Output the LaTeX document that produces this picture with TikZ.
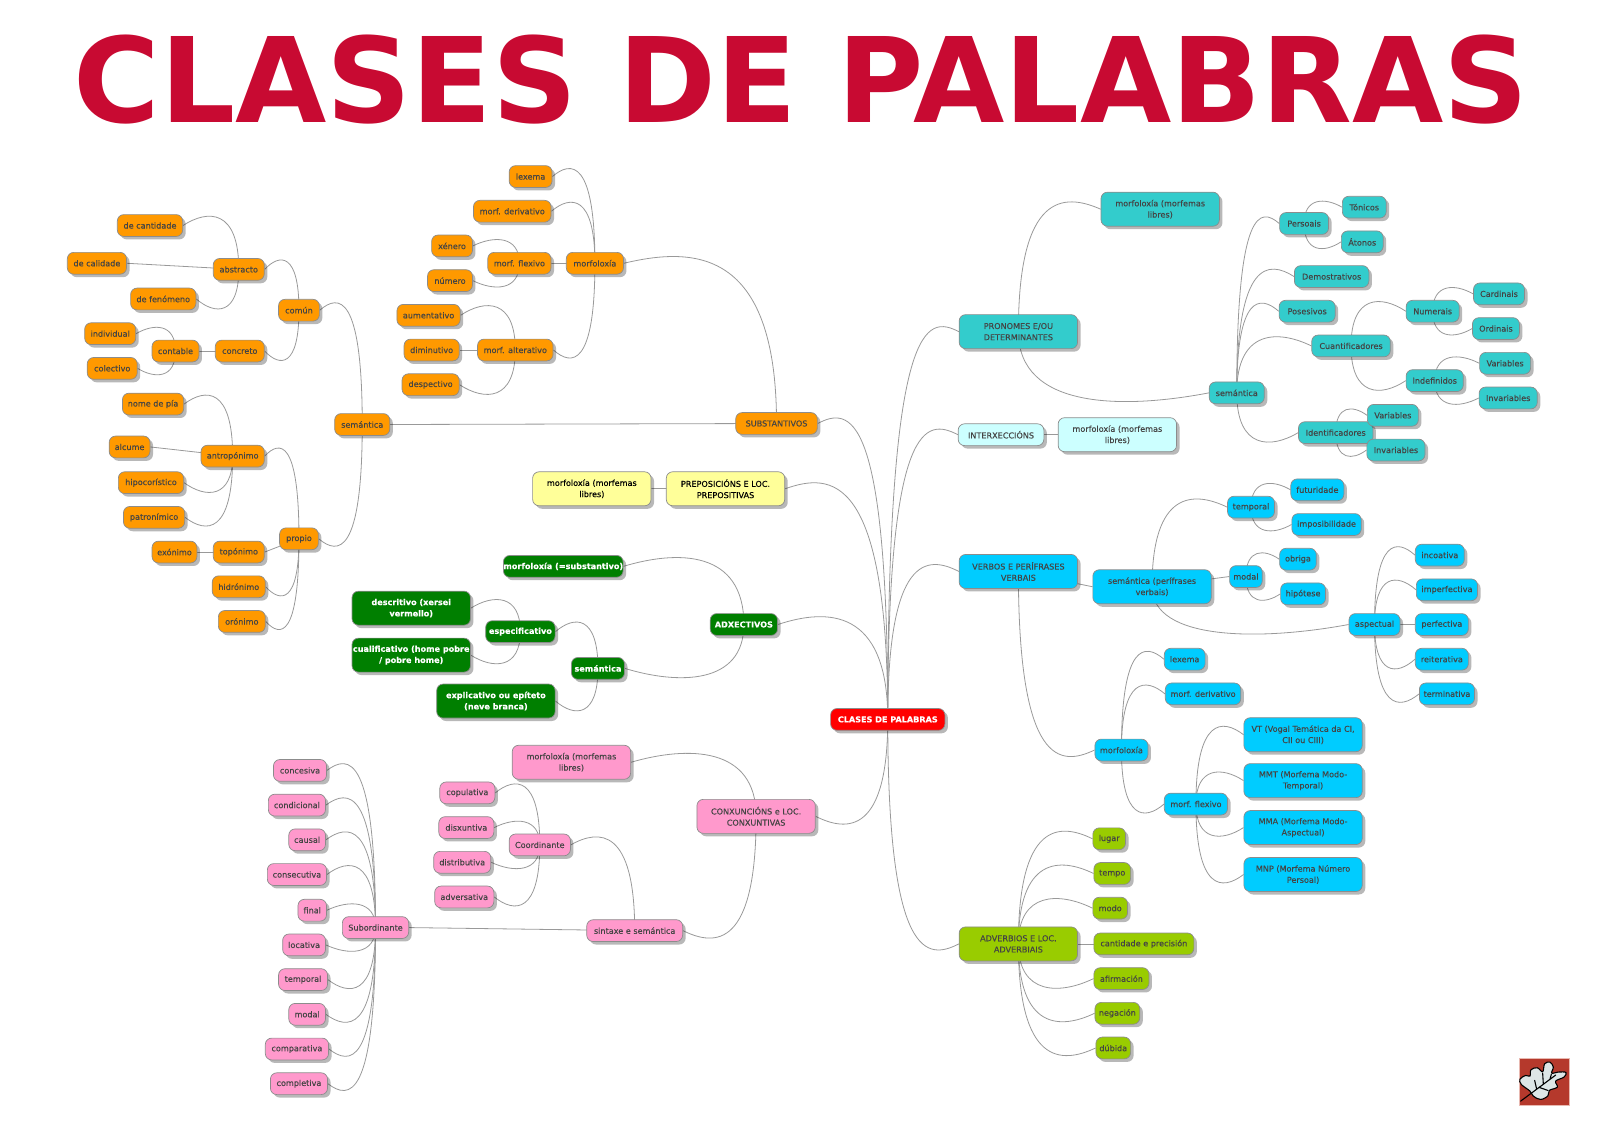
\documentclass[tikz,border=0pt]{standalone}
\usepackage{fontspec}
\setmainfont{DejaVu Sans}
\newfontfamily\nodefont{DejaVu Sans}[FakeBold=0.25]
\usetikzlibrary{shadows,backgrounds,calc}
\definecolor{cOr}{HTML}{FF9900}
\definecolor{cYe}{HTML}{FFFF99}
\definecolor{cGr}{HTML}{007F00}
\definecolor{cPi}{HTML}{FF99CC}
\definecolor{cTu}{HTML}{33CCCC}
\definecolor{cCy}{HTML}{CCFFFF}
\definecolor{cBl}{HTML}{00CCFF}
\definecolor{cLi}{HTML}{99CC00}
\definecolor{cTxt}{HTML}{444444}
\definecolor{cTitle}{HTML}{C80A32}
\definecolor{cLink}{HTML}{999999}
\definecolor{cLeafBg}{HTML}{B5392C}
\definecolor{cLeafEdge}{HTML}{E8B8B0}
\definecolor{cLeaf}{HTML}{DDE6E6}
\tikzset{
  mm/.style={draw=black!45,line width=0.35pt,rounded corners=3.2pt,inner sep=0pt,align=center,
    minimum height=10.9pt,text=cTxt,font=\nodefont\fontsize{4.05}{5.6}\selectfont,
    drop shadow={shadow xshift=1.5pt,shadow yshift=-1.5pt,opacity=.28,fill=black}},
  w/.style={minimum width=#1*0.5102pt},
  two/.style={minimum height=17pt,minimum width=59.2pt},
  or/.style={mm,fill=cOr},
  ye/.style={mm,fill=cYe,text=black},
  gr/.style={mm,fill=cGr,text=white},
  pi/.style={mm,fill=cPi},
  tu/.style={mm,fill=cTu},
  cy/.style={mm,fill=cCy},
  bl/.style={mm,fill=cBl},
  li/.style={mm,fill=cLi},
  rootnode/.style={mm,fill=red,text=white},
  link/.style={draw=cLink,line width=0.4pt},
}
\newcommand{\cn}[3]{%
  \draw[link] let \p1=(#1.center),\p2=(#2.#3),\n1={min(8.2,0.6*abs(\y2-\y1))*(\y2>\y1?1:-1)},
    \n2={\x2+0.45*(\x1-\x2)} in
    (\p1) .. controls (\x1,{\y2+\n1}) and (\n2,{\y2+\n1}) .. (\p2);}
\newcommand{\cs}[3]{\draw[link] (#1.center) -- (#2.#3);}
\begin{document}
\begin{tikzpicture}[x=0.5102pt,y=-0.5102pt]
\useasboundingbox (0,0) rectangle (1568,1108.4);
\node[text=cTitle,font=\fontsize{59}{59}\selectfont\bfseries,inner sep=0pt] (title) at (785,78) {CLASES DE PALABRAS};
\node[rootnode,w=112] (root) at (870,705) {\textbf{CLASES DE PALABRAS}};
% orange
\node[or,w=80] (sub) at (761,415) {SUBSTANTIVOS};
\node[or,w=54] (subSem) at (355,416) {semántica};
\node[or,w=56] (subMor) at (583,258) {morfoloxía};
\node[or,w=42] (lexA) at (520,173) {lexema};
\node[or,w=76] (derA) at (502,207) {morf. derivativo};
\node[or,w=62] (flexA) at (509,258) {morf. flexivo};
\node[or,w=40] (xen) at (443,241) {xénero};
\node[or,w=44] (num) at (441,275) {número};
\node[or,w=74] (alt) at (505,343) {morf. alterativo};
\node[or,w=62] (aum) at (420,309) {aumentativo};
\node[or,w=54] (dim) at (423,343) {diminutivo};
\node[or,w=56] (des) at (422,377) {despectivo};
\node[or,w=40] (com) at (293,304) {común};
\node[or,w=50] (abs) at (234,264) {abstracto};
\node[or,w=64] (can) at (147,221) {de cantidade};
\node[or,w=58] (cal) at (95,258) {de calidade};
\node[or,w=64] (fen) at (160,293) {de fenómeno};
\node[or,w=48] (con) at (235,344) {concreto};
\node[or,w=46] (ctb) at (172,344) {contable};
\node[or,w=50] (ind) at (108,327) {individual};
\node[or,w=49] (col) at (110,361) {colectivo};
\node[or,w=60] (pia) at (150,396) {nome de pía};
\node[or,w=40] (alc) at (127,438) {alcume};
\node[or,w=62] (ant) at (228,447) {antropónimo};
\node[or,w=64] (hip) at (148,473) {hipocorístico};
\node[or,w=60] (pat) at (151,507) {patronímico};
\node[or,w=38] (pro) at (293,528) {propio};
\node[or,w=50] (top) at (234,541) {topónimo};
\node[or,w=44] (exo) at (171,541) {exónimo};
\node[or,w=52] (hid) at (234,575) {hidrónimo};
\node[or,w=46] (oro) at (237,609) {orónimo};
% yellow
\node[ye,two] (pre) at (711,479) {PREPOSICIÓNS E LOC.\\PREPOSITIVAS};
\node[ye,two] (preMor) at (580,479) {morfoloxía (morfemas\\libres)};
% green
\node[gr,w=66] (adx) at (729,612) {\textbf{ADXECTIVOS}};
\node[gr,w=116] (adxMor) at (552,555) {\textbf{morfoloxía (=substantivo)}};
\node[gr,w=52] (adxSem) at (586,655) {\textbf{semántica}};
\node[gr,w=68] (esp) at (510,619) {\textbf{especificativo}};
\node[gr,two] (dsc) at (403,596) {\textbf{descritivo (xersei}\\\textbf{vermello)}};
\node[gr,two] (cua) at (403,642) {\textbf{cualificativo (home pobre}\\\textbf{/ pobre home)}};
\node[gr,two] (exp) at (486,687) {\textbf{explicativo ou epíteto}\\\textbf{(neve branca)}};
% pink
\node[pi,two] (cnx) at (741,800) {CONXUNCIÓNS e LOC.\\CONXUNTIVAS};
\node[pi,two] (cnxMor) at (560,747) {morfoloxía (morfemas\\libres)};
\node[pi,w=94] (sin) at (622,912) {sintaxe e semántica};
\node[pi,w=65] (sbo) at (368,909) {Subordinante};
\node[pi,w=60] (coo) at (529,828) {Coordinante};
\node[pi,w=54] (cop) at (458,777) {copulativa};
\node[pi,w=54] (dis) at (457,811) {disxuntiva};
\node[pi,w=56] (dst) at (453,845) {distributiva};
\node[pi,w=58] (adv) at (455,879) {adversativa};
\node[pi,w=52] (cnc) at (294,755) {concesiva};
\node[pi,w=56] (cnd) at (291,789) {condicional};
\node[pi,w=36] (cau) at (301,823) {causal};
\node[pi,w=58] (csc) at (291,857) {consecutiva};
\node[pi,w=28] (fin) at (306,892) {final};
\node[pi,w=42] (loc) at (298,926) {locativa};
\node[pi,w=48] (tmpP) at (297,960) {temporal};
\node[pi,w=36] (mod) at (301,994) {modal};
\node[pi,w=62] (cmp) at (291,1028) {comparativa};
\node[pi,w=56] (cpl) at (293,1062) {completiva};
% turquoise
\node[tu,two] (prn) at (998,325) {PRONOMES E/OU\\DETERMINANTES};
\node[tu,two] (prnMor) at (1137,205) {morfoloxía (morfemas\\libres)};
\node[tu,w=54] (prnSem) at (1212,385) {semántica};
\node[tu,w=48] (per) at (1278,219) {Persoais};
\node[tu,w=43] (ton) at (1337,203) {Tónicos};
\node[tu,w=41] (ato) at (1335,237) {Átonos};
\node[tu,w=73] (dem) at (1305,271) {Demostrativos};
\node[tu,w=55] (pos) at (1281,305) {Posesivos};
\node[tu,w=77] (cua2) at (1324,339) {Cuantificadores};
\node[tu,w=52] (nmr) at (1404,305) {Numerais};
\node[tu,w=50] (crd) at (1469,288) {Cardinais};
\node[tu,w=46] (ord) at (1466,322) {Ordinais};
\node[tu,w=56] (inf) at (1406,373) {Indefinidos};
\node[tu,w=50] (var) at (1475,356) {Variables};
\node[tu,w=57] (inv) at (1478,390) {Invariables};
\node[tu,w=73] (ide) at (1309,424) {Identificadores};
\node[tu,w=50] (varB) at (1365,407) {Variables};
\node[tu,w=57] (invB) at (1368,441) {Invariables};
% light cyan
\node[cy,w=84] (int) at (981,426) {INTERXECCIÓNS};
\node[cy,two] (intMor) at (1095,426) {morfoloxía (morfemas\\libres)};
% blue
\node[bl,two] (vrb) at (998,560) {VERBOS E PERÍFRASES\\VERBAIS};
\node[bl,two] (vrbSem) at (1129,575) {semántica (perífrases\\verbais)};
\node[bl,w=46] (tmp) at (1226,497) {temporal};
\node[bl,w=52] (fut) at (1291,480) {futuridade};
\node[bl,w=68] (imp) at (1300,514) {imposibilidade};
\node[bl,w=32] (mdl) at (1221,565) {modal};
\node[bl,w=36] (obr) at (1272,548) {obriga};
\node[bl,w=44] (hpt) at (1277,582) {hipótese};
\node[bl,w=50] (asp) at (1347,612) {aspectual};
\node[bl,w=48] (inc) at (1411,544) {incoativa};
\node[bl,w=60] (imf) at (1418,578) {imperfectiva};
\node[bl,w=52] (prf) at (1413,612) {perfectiva};
\node[bl,w=52] (rei) at (1413,646) {reiterativa};
\node[bl,w=54] (ter) at (1418,680) {terminativa};
\node[bl,w=52] (vrbMor) at (1099,735) {morfoloxía};
\node[bl,w=40] (lexB) at (1161,646) {lexema};
\node[bl,w=74] (derB) at (1179,680) {morf. derivativo};
\node[bl,w=62] (flexB) at (1172,788) {morf. flexivo};
\node[bl,two] (vt) at (1277,720) {VT (Vogal Temática da CI,\\CII ou CIII)};
\node[bl,two] (mmt) at (1277,765) {MMT (Morfema Modo-\\Temporal)};
\node[bl,two] (mma) at (1277,811) {MMA (Morfema Modo-\\Aspectual)};
\node[bl,two] (mnp) at (1277,857) {MNP (Morfema Número\\Persoal)};
% lime
\node[li,two] (adb) at (998,925) {ADVERBIOS E LOC.\\ADVERBIAIS};
\node[li,w=32] (lug) at (1087,822) {lugar};
\node[li,w=36] (tem) at (1090,856) {tempo};
\node[li,w=34] (mdo) at (1088,890) {modo};
\node[li,w=98] (cnt) at (1121,925) {cantidade e precisión};
\node[li,w=54] (afi) at (1099,959) {afirmación};
\node[li,w=44] (neg) at (1095,993) {negación};
\node[li,w=34] (dub) at (1091,1027) {dúbida};
% connectors
\begin{pgfonlayer}{background}
\cn{root}{sub}{east}\cn{root}{pre}{east}\cn{root}{adx}{east}\cn{root}{cnx}{east}
\cn{root}{prn}{west}\cn{root}{int}{west}\cn{root}{vrb}{west}\cn{root}{adb}{west}
\cs{sub}{subSem}{east}\cn{sub}{subMor}{east}
\cn{subMor}{lexA}{east}\cn{subMor}{derA}{east}\cs{subMor}{flexA}{east}\cn{subMor}{alt}{east}
\cn{flexA}{xen}{east}\cn{flexA}{num}{east}
\cn{alt}{aum}{east}\cs{alt}{dim}{east}\cn{alt}{des}{east}
\cn{subSem}{com}{east}\cn{subSem}{pro}{east}
\cn{com}{abs}{east}\cn{com}{con}{east}
\cn{abs}{can}{east}\cs{abs}{cal}{east}\cn{abs}{fen}{east}
\cs{con}{ctb}{east}\cn{ctb}{ind}{east}\cn{ctb}{col}{east}
\cn{pro}{ant}{east}\cs{pro}{top}{east}\cn{pro}{hid}{east}\cn{pro}{oro}{east}
\cn{ant}{pia}{east}\cs{ant}{alc}{east}\cn{ant}{hip}{east}\cn{ant}{pat}{east}
\cs{top}{exo}{east}
\cs{pre}{preMor}{east}
\cn{adx}{adxMor}{east}\cn{adx}{adxSem}{east}
\cn{adxSem}{esp}{east}\cn{adxSem}{exp}{east}
\cn{esp}{dsc}{east}\cn{esp}{cua}{east}
\cn{cnx}{cnxMor}{east}\cn{cnx}{sin}{east}
\cs{sin}{sbo}{east}\cn{sin}{coo}{east}
\cn{coo}{cop}{east}\cn{coo}{dis}{east}\cn{coo}{dst}{east}\cn{coo}{adv}{east}
\cn{sbo}{cnc}{east}\cn{sbo}{cnd}{east}\cn{sbo}{cau}{east}\cn{sbo}{csc}{east}\cn{sbo}{fin}{east}
\cn{sbo}{loc}{east}\cn{sbo}{tmpP}{east}\cn{sbo}{mod}{east}\cn{sbo}{cmp}{east}\cn{sbo}{cpl}{east}
\cn{prn}{prnMor}{west}\cn{prn}{prnSem}{west}
\cn{prnSem}{per}{west}\cn{prnSem}{dem}{west}\cn{prnSem}{pos}{west}\cn{prnSem}{cua2}{west}\cn{prnSem}{ide}{west}
\cn{per}{ton}{west}\cn{per}{ato}{west}
\cn{cua2}{nmr}{west}\cn{cua2}{inf}{west}
\cn{nmr}{crd}{west}\cn{nmr}{ord}{west}
\cn{inf}{var}{west}\cn{inf}{inv}{west}
\cn{ide}{varB}{west}\cn{ide}{invB}{west}
\cs{int}{intMor}{west}
\cs{vrb}{vrbSem}{west}\cn{vrb}{vrbMor}{west}
\cn{vrbSem}{tmp}{west}\cs{vrbSem}{mdl}{west}\cn{vrbSem}{asp}{west}
\cn{tmp}{fut}{west}\cn{tmp}{imp}{west}
\cn{mdl}{obr}{west}\cn{mdl}{hpt}{west}
\cn{asp}{inc}{west}\cn{asp}{imf}{west}\cs{asp}{prf}{west}\cn{asp}{rei}{west}\cn{asp}{ter}{west}
\cn{vrbMor}{lexB}{west}\cn{vrbMor}{derB}{west}\cn{vrbMor}{flexB}{west}
\cn{flexB}{vt}{west}\cn{flexB}{mmt}{west}\cn{flexB}{mma}{west}\cn{flexB}{mnp}{west}
\cn{adb}{lug}{west}\cn{adb}{tem}{west}\cn{adb}{mdo}{west}\cs{adb}{cnt}{west}
\cn{adb}{afi}{west}\cn{adb}{neg}{west}\cn{adb}{dub}{west}
\end{pgfonlayer}
% leaf emblem
\begin{scope}[shift={(1431.4,1009.8)},x=0.1667pt,y=-0.1667pt]
\fill[cLeafEdge] (174,82) rectangle (328,226);
\fill[cLeafBg] (177,85) rectangle (326,225);
\draw[fill=cLeaf,line width=0.55pt,line join=round] plot[smooth cycle,tension=0.6] coordinates {
 (208,182) (182,162) (178,146) (195,135) (208,137) (211,118) (230,112) (246,124) (252,100) (268,95) (278,110) (273,128) (292,125) (316,126) (310,140) (285,152) (290,170) (266,180) (262,196) (240,207) (218,197)};
\draw[line width=0.55pt,line cap=round] (180,212) -- (285,134)
  (228,176) -- (222,150) (248,160) -- (246,128) (268,146) -- (272,132) (236,171) -- (262,180);
\end{scope}
\end{tikzpicture}
\end{document}
